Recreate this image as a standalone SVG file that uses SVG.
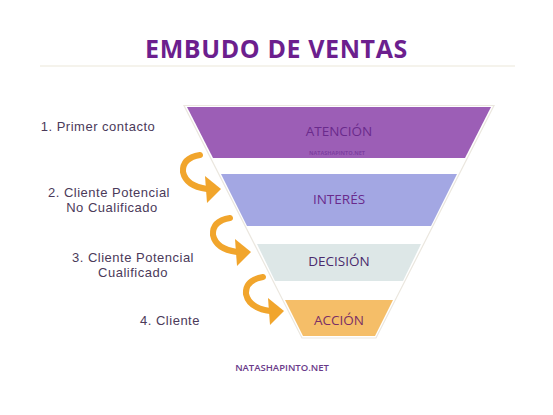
<svg xmlns="http://www.w3.org/2000/svg" width="553" height="415" viewBox="0 0 553 415">
<defs>
<style>
.lbl{font-family:"Liberation Sans",Arial,sans-serif;font-size:13px;letter-spacing:0.5px;fill:#4b3a5a;text-anchor:middle}
.band{font-family:"Open Sans","Liberation Sans",sans-serif;font-size:13.5px;text-anchor:middle;font-weight:500}
.arc{fill:none;stroke:#f1a52c;stroke-width:6;stroke-linecap:round}
.head{fill:#f1a52c}
</style>
<g id="arrowShape">
<path class="arc" d="M200,155 Q182,158 183,172 Q186,186 207,189"/>
<polygon class="head" points="205,176 221,189 207,203"/>
</g>
</defs>
<rect width="553" height="415" fill="#ffffff"/>
<text x="276.5" y="58" font-family="'Open Sans','Liberation Sans',sans-serif" font-size="25" font-weight="700" letter-spacing="0.6" fill="#6c1f8e" text-anchor="middle">EMBUDO DE VENTAS</text>
<line x1="40" y1="66" x2="515" y2="66" stroke="#f2efe6" stroke-width="1.5"/>
<polygon points="184,105.5 494,105.5 376,338 302,338" fill="none" stroke="#ebe7df" stroke-width="1.2"/>
<g id="atencion">
<polygon points="187,107 491,107 465,158 213,158" fill="#9c5eb6"/>
<text class="band" x="339" y="136" fill="#6a2a8c">ATENCIÓN</text>
<text x="337" y="155" font-family="'Open Sans','Liberation Sans',sans-serif" font-size="5.5" font-weight="700" fill="#7d3ea0" text-anchor="middle">NATASHAPINTO.NET</text>
</g>
<g id="interes">
<polygon points="221,174 457,174 431,226 247,226" fill="#a3a7e3"/>
<text class="band" x="339" y="204" fill="#6a2a8c">INTERÉS</text>
</g>
<g id="decision">
<polygon points="257,244 421,244 403,281 275,281" fill="#dde7e7"/>
<text class="band" x="339" y="266" fill="#4a2a6c">DECISIÓN</text>
</g>
<g id="accion">
<polygon points="285,300 393,300 375,336 303,336" fill="#f5be68"/>
<text class="band" x="339" y="325" fill="#7a2f66">ACCIÓN</text>
</g>
<g id="labels">
<text class="lbl" x="98" y="131">1. Primer contacto</text>
<text class="lbl"><tspan x="109" y="197">2. Cliente Potencial</tspan><tspan x="112" y="212">No Cualificado</tspan></text>
<text class="lbl"><tspan x="133" y="262">3. Cliente Potencial</tspan><tspan x="133" y="277">Cualificado</tspan></text>
<text class="lbl" x="170" y="325">4. Cliente</text>
</g>
<g id="connectors">
<use href="#arrowShape"/>
<use href="#arrowShape" transform="translate(30,63)"/>
<use href="#arrowShape" transform="translate(63,122)"/>
</g>
<text x="282" y="371" font-family="'Open Sans','Liberation Sans',sans-serif" font-size="9.5" font-weight="600" fill="#6a3a8a" text-anchor="middle">NATASHAPINTO.NET</text>
</svg>
